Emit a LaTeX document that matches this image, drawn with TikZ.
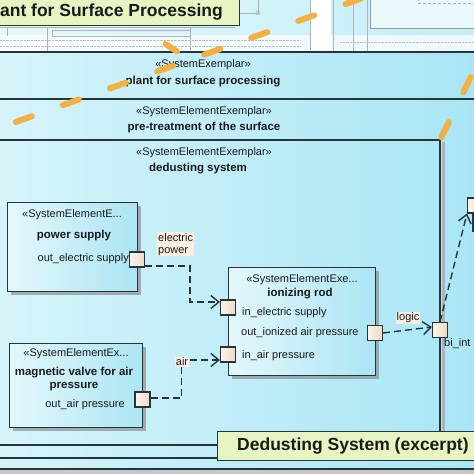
\documentclass[tikz,border=0pt]{standalone}
\usepackage{fontspec}
\setmainfont{Liberation Sans}
\usetikzlibrary{arrows.meta,shadows}
\definecolor{frameline}{HTML}{27343A}
\definecolor{cyanL}{HTML}{D6F4FA}
\definecolor{cyanR}{HTML}{A9E6F5}
\definecolor{boxL}{HTML}{E4F8FC}
\definecolor{boxR}{HTML}{ABE5F4}
\definecolor{portL}{HTML}{FCF4EA}
\definecolor{portR}{HTML}{EEDAC3}
\definecolor{labelbg}{HTML}{FAEFE2}
\definecolor{greenbox}{HTML}{E7F5C3}
\definecolor{orangedash}{HTML}{F5B043}
\definecolor{txt}{HTML}{1A1A1A}
\tikzset{
  elembox/.style={draw=frameline, line width=1.2pt, left color=boxL, right color=boxR, rectangle, inner sep=0pt,
    drop shadow={shadow xshift=3pt, shadow yshift=-3pt, fill=black!50, opacity=0.6}},
  port/.style={draw=frameline, line width=1.1pt, left color=portL, right color=portR, rectangle, minimum size=15pt, inner sep=0pt},
  small/.style={font=\fontsize{11}{13}\selectfont, text=txt, inner sep=0pt},
  smallbold/.style={font=\fontsize{11.5}{13.5}\selectfont\bfseries, text=txt, inner sep=0pt},
  flow/.style={draw=frameline, line width=1.4pt, dash pattern=on 7pt off 4pt, -{Straight Barb[length=8pt,width=13pt,line width=1.4pt]}},
  edgelabel/.style={font=\fontsize{11}{12}\selectfont, text=txt, fill=labelbg, inner sep=1pt},
  frame/.style={draw=frameline, line width=1.2pt},
  zoomline/.style={draw=orangedash, line width=6pt, line cap=round, dash pattern=on 17pt off 33pt},
  greenlabel/.style={draw=frameline, line width=1.2pt, fill=greenbox, rectangle, inner sep=0pt},
  bigbold/.style={font=\fontsize{17.5}{20}\selectfont\bfseries, text=txt, inner sep=0pt},
  faint/.style={draw=black!30, line width=0.5pt},
}
\begin{document}
\begin{tikzpicture}[x=1pt,y=-1pt]
\useasboundingbox (0,0) rectangle (474,474);
\clip (0,0) rectangle (474,474);

% ---------- blurred background of the upper diagram ----------
\fill[left color=cyanL!60!white, right color=cyanR!70!white] (0,0) rectangle (474,52);
\fill[white, opacity=0.7] (0,35) rectangle (474,51);
\fill[white] (310,0) rectangle (331,50);
\draw[faint] (310,0) -- (310,50);
\draw[faint] (333,0) -- (333,52);
\draw[faint] (353,0) -- (353,52);
\draw[faint] (367,0) -- (367,52);
\draw[black!40, line width=0.8pt, fill=cyanL!50!white] (370,-2) rectangle (480,28);
\draw[faint, densely dashed] (418,-2) rectangle (480,3);
\draw[faint] (233,-2) rectangle (258,13);
\draw[faint] (258,13) circle (2);
\draw[faint] (0,27) -- (235,27);
\draw[faint] (7,28) -- (7,36);
\draw[faint] (47,28) -- (47,52);
\draw[faint] (52,30) rectangle (190,36);
\draw[faint] (190,27) -- (190,50);
\draw[black!25, densely dotted] (0,40) -- (300,40);
\draw[black!25, densely dotted] (0,46) -- (300,46);
\draw[black!25, densely dotted] (340,42) -- (474,42);

% title box of the upper diagram
\node[greenlabel, anchor=north west, minimum width=243pt, minimum height=28pt] (tbox) at (-4,-3) {};
\node[bigbold, anchor=east] (ttext) at (223,12) {ant for Surface Processing};

% ---------- frames ----------
\fill[left color=cyanL, right color=cyanR] (0,52) rectangle (474,469);
\draw[frame] (0,52) -- (474,52);
\draw[frame] (0,99) -- (474,99);
\draw[black!30, line width=2.5pt] (443.5,142) -- (443.5,431);
\draw[frame] (0,140) -- (440,140) -- (440,431);
\draw[frame] (0,445) -- (217,445);
\draw[frame] (0,458) -- (217,458);
\draw[frame] (0,469) -- (474,469);
\fill[black!22] (0,469.6) rectangle (474,474);

\node[small] (st1) at (203,65) {«SystemExemplar»};
\node[smallbold] (n1) at (203,82) {plant for surface processing};
\node[small] (st2) at (204,112) {«SystemElementExemplar»};
\node[smallbold] (n2) at (204,128) {pre-treatment of the surface};
\node[small] (st3) at (204,153) {«SystemElementExemplar»};
\node[smallbold] (n3) at (198,169) {dedusting system};

% ---------- element boxes ----------
\node[elembox, anchor=north west, minimum width=130pt, minimum height=89pt] (ps) at (7,202) {};
\node[small] (psst) at (72,215) {«SystemElementE...};
\node[smallbold] (psn) at (74,236) {power supply};
\node[small, anchor=east] (psp) at (129,259) {out\_electric supply};

\node[elembox, anchor=north west, minimum width=147pt, minimum height=108pt] (ir) at (228,267) {};
\node[small] (irst) at (302,280) {«SystemElementExe...};
\node[smallbold] (irn) at (300,294) {ionizing rod};
\node[small, anchor=west] (irp1) at (242,313) {in\_electric supply};
\node[small, anchor=west] (irp2) at (241,333) {out\_ionized air pressure};
\node[small, anchor=west] (irp3) at (242,356) {in\_air pressure};

\node[elembox, anchor=north west, minimum width=133pt, minimum height=84pt] (mv) at (9,343) {};
\node[small] (mvst) at (76,354) {«SystemElementEx...};
\node[smallbold, align=center] (mvn) at (74,379.5) {magnetic valve for air\\[-0.5pt]pressure};
\node[small, anchor=east] (mvp) at (125,405) {out\_air pressure};

% ---------- ports ----------
\node[port] (psout) at (137,259.5) {};
\node[port] (ir1) at (228,307.5) {};
\node[port] (ir2) at (228,354.5) {};
\node[port] (irout) at (375,333) {};
\node[port] (mvout) at (142.5,399.5) {};
\node[port] (bi) at (440,330) {};
\fill[frameline] (471.5,213) rectangle (477,232);
\node[port] (tp) at (475,205.5) {};
\node[small, anchor=west] (bilbl) at (444,344) {bi\_int};

% ---------- connectors ----------
\draw[flow] ([yshift=-6.5pt]psout.east) -- ++(45,0) |- ([yshift=5.5pt]ir1.west);
\draw[flow] ([yshift=1.5pt]mvout.east) -- ++(31,0) |- ([yshift=-5.5pt]ir2.west);
\draw[flow] (irout.east) -- ([yshift=3pt]bi.west);
\draw[flow] (bi.north) -- (tp.south west);

\node[edgelabel, anchor=north west, align=left] (eplbl) at (157,232) {electric\\power};
\node[edgelabel] (airlbl) at (182,362) {air};
\node[edgelabel] (logiclbl) at (408,318) {logic};

% ---------- bottom label ----------
\node[greenlabel, anchor=north west, minimum width=265pt, minimum height=29pt] (dbox) at (217,431) {};
\node[bigbold, anchor=west] (dtext) at (237,446) {Dedusting System (excerpt)};

% ---------- orange zoom indicator ----------
\draw[zoomline] (15.8,122) -- ++(400*0.9417,-400*0.3367);
\draw[zoomline] (441.3,137.3) -- ++(0.44*200,-0.90*200);
\draw[draw=orangedash, line width=6pt, line cap=round] (165.5,44) -- (177,51.5);
\end{tikzpicture}
\end{document}
